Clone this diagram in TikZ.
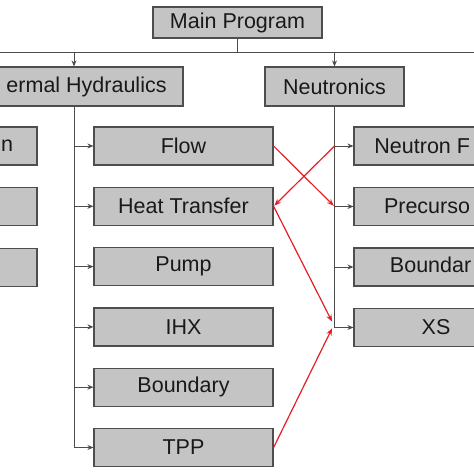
\documentclass[tikz,border=0pt]{standalone}
\usepackage{fontspec}
\setmainfont{Liberation Sans}
\usetikzlibrary{calc,arrows.meta}
\definecolor{boxgray}{RGB}{196,196,196}
\definecolor{edgegray}{RGB}{78,78,78}
\definecolor{linkred}{RGB}{228,30,36}

\begin{document}
\begin{tikzpicture}[x=1pt,y=-1pt,>={Stealth[length=6pt,width=5pt]},font=\fontsize{21.5}{25}\selectfont,
    box/.style={draw=edgegray,line width=1.2pt,fill=boxgray,text=black!90,inner sep=0pt,minimum width=179pt,minimum height=38pt},
    tree/.style={->,draw=black!70,line width=0.8pt},
    link/.style={-{Stealth[length=7pt,width=5.5pt]},draw=linkred,line width=1.2pt,shorten >=1pt}]
            \useasboundingbox (0,0) rectangle (474,474);
            \clip (0,0) rectangle (474,474);
            \node[box,minimum width=169pt,minimum height=31pt] (main) at (237.5,22.5) {Main Program};
            \node[box,minimum width=218pt,minimum height=39pt] (th) at (74,86.5) {\phantom{Th}ermal Hydraulics};
            \node[box,minimum width=139pt,minimum height=39pt] (neu) at (334.5,86.5) {Neutronics};
            \foreach \n/\t [count=\i] in {flow/Flow,heat/Heat Transfer,pump/Pump,ihx/IHX,bnd/Boundary,tpp/TPP} {
            \node[box] (\n) at (183.5,{146+60.3*(\i-1)}) {\t};
            }
            \foreach \n/\t [count=\i] in {flux/Neutron F\phantom{lux},prec/Precurso\phantom{rs},nbnd/Boundar\phantom{y},xs/XS} {
            \node[box,minimum width=164pt] (\n) at (436,{146+60.5*(\i-1)}) {\t};
            }
            \node[box,text width=131pt,align=right] (sub1) at (-52.5,146) {n};
            \node[box] (sub2) at (-52.5,206.5) {};
            \node[box] (sub3) at (-52.5,267.5) {};
            \coordinate (bus) at ($(main.south)+(0,14)$);
            \coordinate (busL) at (0,52);
            \coordinate (busR) at (474,52);
            \draw[tree,-] (main.south)--(bus);
            \draw[tree,-] (busL)--(busR);
            \draw[tree] (bus -| th.north)--(th.north);
            \draw[tree] (bus -| neu.north)--(neu.north);
            \foreach \n in {flow,heat,pump,ihx,bnd,tpp} {
            \draw[tree] (th.south) |- (\n.west);
            }
            \foreach \n in {flux,prec,nbnd,xs} {
            \draw[tree] (neu.south) |- (\n.west);
            }
            \draw[link] (flow.east)--(neu.south |- prec.west);
            \draw[link] (neu.south |- flux.west)--(heat.east);
            \draw[link] (heat.east)--($(neu.south |- xs.west)+(-2,-5)$);
            \draw[link] (tpp.east)--($(neu.south |- xs.west)+(-2,0)$);
        \end{tikzpicture}
\end{document}
